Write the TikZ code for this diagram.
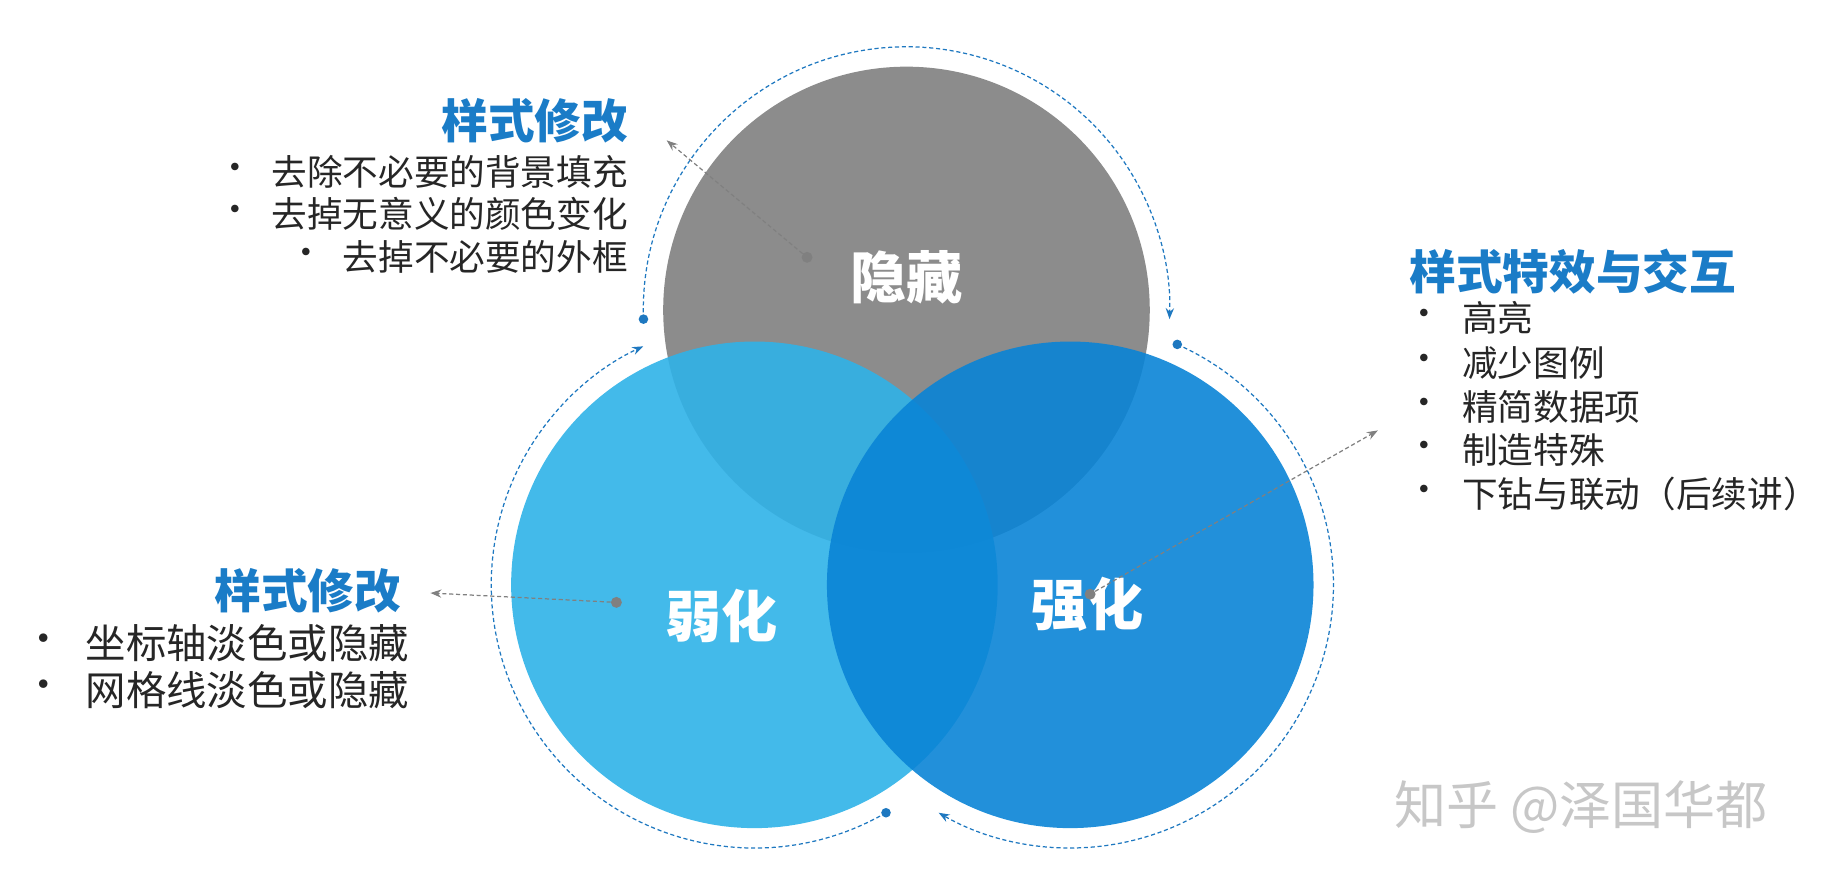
\documentclass[tikz,border=0pt]{standalone}
\usepackage{fontspec}
\setmainfont{Noto Sans CJK SC}
\usetikzlibrary{arrows.meta}
\definecolor{ttl}{HTML}{1A7CC7}
\definecolor{grayc}{HTML}{8C8C8C}
\definecolor{lblue}{HTML}{2FB2E8}
\definecolor{dblue}{HTML}{0A84D6}
\definecolor{arcc}{HTML}{1E78C0}
\tikzset{
 circ/.style={circle,minimum size=416*0.03cm,inner sep=0pt},
 big/.style={text=white,font=\fontsize{41}{44}\selectfont\bfseries},
 ttlt/.style={text=ttl,font=\fontsize{34}{36}\selectfont\bfseries,inner sep=0pt},
 item/.style={font=\fontsize{26}{28}\selectfont,inner sep=0pt,text=black!85},
 itemb/.style={font=\fontsize{29.5}{31}\selectfont,inner sep=0pt,text=black!85},
 pointer/.style={densely dashed,gray,line width=0.9pt,-{Stealth[length=8pt]}},
 orbit/.style={densely dashed,arcc,line width=0.9pt},
 dotn/.style={circle,fill=arcc,inner sep=0pt,minimum size=7pt},
 gdot/.style={circle,fill=gray,inner sep=0pt,minimum size=8pt}
}
\begin{document}
\begin{tikzpicture}[x=0.03cm,y=-0.03cm]
\useasboundingbox (0,0) rectangle (1568,755);
\node[circ,fill=grayc] (g) at (775,265) {};
\node[circ,fill=lblue,fill opacity=0.9] (l) at (645,500) {};
\node[circ,fill=dblue,fill opacity=0.9] (r) at (915,500) {};
\node[big] at (775,237) {隐藏};
\node[big] at (617,527) {弱化};
\node[big] at (930,517) {强化};
% orbits
\coordinate (gc) at (775,265); \coordinate (lc) at (645,500); \coordinate (rc) at (915,500);
\draw[orbit,-{Stealth[length=8pt]}] ([shift={(178:225)}]gc) arc (178:362:225);
\node[dotn] at ([shift={(178:225)}]gc) {};
\draw[orbit,-{Stealth[length=8pt]}] ([shift={(60:225)}]lc) arc (60:245:225);
\node[dotn] at ([shift={(60:225)}]lc) {};
\draw[orbit,-{Stealth[length=8pt]}] ([shift={(-66:225)}]rc) arc (-66:120:225);
\node[dotn] at ([shift={(-66:225)}]rc) {};
% pointers
\node[gdot] (p1) at (690,220) {}; \coordinate (q1) at (570,120);
\draw[pointer] (p1) -- (q1);
\node[gdot] (p2) at (527,515) {}; \coordinate (q2) at (368,507);
\draw[pointer] (p2) -- (q2);
\node[gdot] (p3) at (932,508) {}; \coordinate (q3) at (1178,368);
\draw[pointer] (p3) -- (q3);
% top-left text
\node[ttlt,anchor=east] (t1) at (537,103) {样式修改};
\node[item,anchor=east] (a1) at (537,147) {去除不必要的背景填充};
\node[item,anchor=east] (a2) at (537,183) {去掉无意义的颜色变化};
\node[item,anchor=east] (a3) at (537,220) {去掉不必要的外框};
\node[item] at (201,147) {·}; \node[item] at (201,183) {·}; \node[item] at (262,220) {·};
% right text
\node[ttlt,anchor=west] (t2) at (1205,232) {样式特效与交互};
\foreach \y/\t in {272/高亮,310/减少图例,348/精简数据项,385/制造特殊,422/下钻与联动（后续讲）}{
  \node[item] at (1218,\y) {·};
  \node[item,anchor=west] at (1250,\y) {\t};
}
% bottom-left text
\node[ttlt,anchor=east] (t3) at (343,505) {样式修改};
\foreach \y/\t in {550/坐标轴淡色或隐藏,590/网格线淡色或隐藏}{
  \node[itemb] at (37,\y) {·};
  \node[itemb,anchor=west] at (73,\y) {\t};
}
\node[font=\fontsize{38}{40}\selectfont,text=black!22,anchor=west] at (1188,690) {知乎 @泽国华都};
\end{tikzpicture}
\end{document}
